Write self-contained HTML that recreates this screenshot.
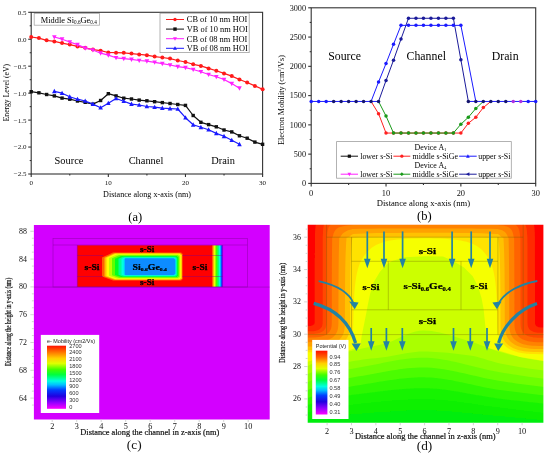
<!DOCTYPE html>
<html><head><meta charset="utf-8"><title>Figure</title>
<style>
html,body{margin:0;padding:0;background:#fff;width:550px;height:459px;overflow:hidden}
svg{display:block}
text{font-family:'Liberation Serif','Times New Roman',serif}
.s{font-family:'Liberation Sans','DejaVu Sans',sans-serif}
</style></head><body>
<svg width="550" height="459" viewBox="0 0 550 459">
<rect width="550" height="459" fill="#fff"/>
<g id="pa">
<rect x="31.2" y="12.3" width="231.4" height="161.7" fill="none" stroke="#333" stroke-width="1.1"/>
<line x1="28.2" y1="12.3" x2="31.2" y2="12.3" stroke="#333" stroke-width="1.1"/>
<text x="26.4" y="14.7" font-size="7" text-anchor="end" fill="#111">0.5</text>
<line x1="28.2" y1="39.25" x2="31.2" y2="39.25" stroke="#333" stroke-width="1.1"/>
<text x="26.4" y="41.65" font-size="7" text-anchor="end" fill="#111">0.0</text>
<line x1="28.2" y1="66.2" x2="31.2" y2="66.2" stroke="#333" stroke-width="1.1"/>
<text x="26.4" y="68.6" font-size="7" text-anchor="end" fill="#111">−0.5</text>
<line x1="28.2" y1="93.15" x2="31.2" y2="93.15" stroke="#333" stroke-width="1.1"/>
<text x="26.4" y="95.55" font-size="7" text-anchor="end" fill="#111">−1.0</text>
<line x1="28.2" y1="120.1" x2="31.2" y2="120.1" stroke="#333" stroke-width="1.1"/>
<text x="26.4" y="122.5" font-size="7" text-anchor="end" fill="#111">−1.5</text>
<line x1="28.2" y1="147.05" x2="31.2" y2="147.05" stroke="#333" stroke-width="1.1"/>
<text x="26.4" y="149.45" font-size="7" text-anchor="end" fill="#111">−2.0</text>
<line x1="28.2" y1="174" x2="31.2" y2="174" stroke="#333" stroke-width="1.1"/>
<text x="26.4" y="176.4" font-size="7" text-anchor="end" fill="#111">−2.5</text>
<line x1="29.7" y1="25.77" x2="31.2" y2="25.77" stroke="#333" stroke-width="1.1"/>
<line x1="29.7" y1="52.72" x2="31.2" y2="52.72" stroke="#333" stroke-width="1.1"/>
<line x1="29.7" y1="79.67" x2="31.2" y2="79.67" stroke="#333" stroke-width="1.1"/>
<line x1="29.7" y1="106.62" x2="31.2" y2="106.62" stroke="#333" stroke-width="1.1"/>
<line x1="29.7" y1="133.57" x2="31.2" y2="133.57" stroke="#333" stroke-width="1.1"/>
<line x1="29.7" y1="160.53" x2="31.2" y2="160.53" stroke="#333" stroke-width="1.1"/>
<line x1="31.2" y1="174.0" x2="31.2" y2="177" stroke="#333" stroke-width="1.1"/>
<text x="31.2" y="184.6" font-size="7" text-anchor="middle" fill="#111">0</text>
<line x1="108.33" y1="174.0" x2="108.33" y2="177" stroke="#333" stroke-width="1.1"/>
<text x="108.33" y="184.6" font-size="7" text-anchor="middle" fill="#111">10</text>
<line x1="185.47" y1="174.0" x2="185.47" y2="177" stroke="#333" stroke-width="1.1"/>
<text x="185.47" y="184.6" font-size="7" text-anchor="middle" fill="#111">20</text>
<line x1="262.6" y1="174.0" x2="262.6" y2="177" stroke="#333" stroke-width="1.1"/>
<text x="262.6" y="184.6" font-size="7" text-anchor="middle" fill="#111">30</text>
<line x1="69.77" y1="174.0" x2="69.77" y2="175.5" stroke="#333" stroke-width="1.1"/>
<line x1="146.9" y1="174.0" x2="146.9" y2="175.5" stroke="#333" stroke-width="1.1"/>
<line x1="224.03" y1="174.0" x2="224.03" y2="175.5" stroke="#333" stroke-width="1.1"/>
<path d="M31.2 37 L38.91 38.1 L46.63 40.3 L54.34 41.4 L62.05 43.1 L69.77 44.6 L77.48 46.4 L85.19 47.8 L92.91 49.6 L100.62 50.7 L108.33 52.5 L116.05 52.7 L123.76 52.8 L131.47 53.6 L139.19 54.4 L146.9 55.2 L154.61 56.6 L162.33 57.5 L170.04 58.6 L177.75 60.5 L185.47 62 L193.18 64.3 L200.89 65.9 L208.61 68.4 L216.32 70.7 L224.03 73.4 L231.75 76.1 L239.46 79.5 L247.17 82.5 L254.89 85.9 L262.6 89.3" fill="none" stroke="#ff1a1a" stroke-width="1.2" stroke-linejoin="round"/><circle cx="31.2" cy="37" r="2.0" fill="#ff1a1a"/><circle cx="38.91" cy="38.1" r="2.0" fill="#ff1a1a"/><circle cx="46.63" cy="40.3" r="2.0" fill="#ff1a1a"/><circle cx="54.34" cy="41.4" r="2.0" fill="#ff1a1a"/><circle cx="62.05" cy="43.1" r="2.0" fill="#ff1a1a"/><circle cx="69.77" cy="44.6" r="2.0" fill="#ff1a1a"/><circle cx="77.48" cy="46.4" r="2.0" fill="#ff1a1a"/><circle cx="85.19" cy="47.8" r="2.0" fill="#ff1a1a"/><circle cx="92.91" cy="49.6" r="2.0" fill="#ff1a1a"/><circle cx="100.62" cy="50.7" r="2.0" fill="#ff1a1a"/><circle cx="108.33" cy="52.5" r="2.0" fill="#ff1a1a"/><circle cx="116.05" cy="52.7" r="2.0" fill="#ff1a1a"/><circle cx="123.76" cy="52.8" r="2.0" fill="#ff1a1a"/><circle cx="131.47" cy="53.6" r="2.0" fill="#ff1a1a"/><circle cx="139.19" cy="54.4" r="2.0" fill="#ff1a1a"/><circle cx="146.9" cy="55.2" r="2.0" fill="#ff1a1a"/><circle cx="154.61" cy="56.6" r="2.0" fill="#ff1a1a"/><circle cx="162.33" cy="57.5" r="2.0" fill="#ff1a1a"/><circle cx="170.04" cy="58.6" r="2.0" fill="#ff1a1a"/><circle cx="177.75" cy="60.5" r="2.0" fill="#ff1a1a"/><circle cx="185.47" cy="62" r="2.0" fill="#ff1a1a"/><circle cx="193.18" cy="64.3" r="2.0" fill="#ff1a1a"/><circle cx="200.89" cy="65.9" r="2.0" fill="#ff1a1a"/><circle cx="208.61" cy="68.4" r="2.0" fill="#ff1a1a"/><circle cx="216.32" cy="70.7" r="2.0" fill="#ff1a1a"/><circle cx="224.03" cy="73.4" r="2.0" fill="#ff1a1a"/><circle cx="231.75" cy="76.1" r="2.0" fill="#ff1a1a"/><circle cx="239.46" cy="79.5" r="2.0" fill="#ff1a1a"/><circle cx="247.17" cy="82.5" r="2.0" fill="#ff1a1a"/><circle cx="254.89" cy="85.9" r="2.0" fill="#ff1a1a"/><circle cx="262.6" cy="89.3" r="2.0" fill="#ff1a1a"/>
<path d="M31.2 91.7 L38.91 92.8 L46.63 94.5 L54.34 95.9 L62.05 98.1 L69.77 99.2 L77.48 101 L85.19 102.3 L92.91 104.1 L100.62 100.5 L108.33 93.7 L116.05 95.9 L123.76 98.2 L131.47 99 L139.19 100.1 L146.9 100.8 L154.61 101.7 L162.33 102.6 L170.04 103.5 L177.75 104.5 L185.47 105.4 L193.18 115.5 L200.89 122.3 L208.61 124.6 L216.32 126.8 L224.03 130 L231.75 131.9 L239.46 135.8 L247.17 138.2 L254.89 142.1 L262.6 144.3" fill="none" stroke="#111" stroke-width="1.2" stroke-linejoin="round"/><rect x="29.5" y="90" width="3.4" height="3.4" fill="#111"/><rect x="37.21" y="91.1" width="3.4" height="3.4" fill="#111"/><rect x="44.93" y="92.8" width="3.4" height="3.4" fill="#111"/><rect x="52.64" y="94.2" width="3.4" height="3.4" fill="#111"/><rect x="60.35" y="96.4" width="3.4" height="3.4" fill="#111"/><rect x="68.07" y="97.5" width="3.4" height="3.4" fill="#111"/><rect x="75.78" y="99.3" width="3.4" height="3.4" fill="#111"/><rect x="83.49" y="100.6" width="3.4" height="3.4" fill="#111"/><rect x="91.21" y="102.4" width="3.4" height="3.4" fill="#111"/><rect x="98.92" y="98.8" width="3.4" height="3.4" fill="#111"/><rect x="106.63" y="92" width="3.4" height="3.4" fill="#111"/><rect x="114.35" y="94.2" width="3.4" height="3.4" fill="#111"/><rect x="122.06" y="96.5" width="3.4" height="3.4" fill="#111"/><rect x="129.77" y="97.3" width="3.4" height="3.4" fill="#111"/><rect x="137.49" y="98.4" width="3.4" height="3.4" fill="#111"/><rect x="145.2" y="99.1" width="3.4" height="3.4" fill="#111"/><rect x="152.91" y="100" width="3.4" height="3.4" fill="#111"/><rect x="160.63" y="100.9" width="3.4" height="3.4" fill="#111"/><rect x="168.34" y="101.8" width="3.4" height="3.4" fill="#111"/><rect x="176.05" y="102.8" width="3.4" height="3.4" fill="#111"/><rect x="183.77" y="103.7" width="3.4" height="3.4" fill="#111"/><rect x="191.48" y="113.8" width="3.4" height="3.4" fill="#111"/><rect x="199.19" y="120.6" width="3.4" height="3.4" fill="#111"/><rect x="206.91" y="122.9" width="3.4" height="3.4" fill="#111"/><rect x="214.62" y="125.1" width="3.4" height="3.4" fill="#111"/><rect x="222.33" y="128.3" width="3.4" height="3.4" fill="#111"/><rect x="230.05" y="130.2" width="3.4" height="3.4" fill="#111"/><rect x="237.76" y="134.1" width="3.4" height="3.4" fill="#111"/><rect x="245.47" y="136.5" width="3.4" height="3.4" fill="#111"/><rect x="253.19" y="140.4" width="3.4" height="3.4" fill="#111"/><rect x="260.9" y="142.6" width="3.4" height="3.4" fill="#111"/>
<path d="M54.34 37 L62.05 39.2 L69.77 42 L77.48 44.6 L85.19 48.1 L92.91 50 L100.62 53.2 L108.33 55.1 L116.05 57.8 L123.76 58.6 L131.47 59.4 L139.19 60.5 L146.9 61.2 L154.61 62.3 L162.33 63.6 L170.04 65 L177.75 66.6 L185.47 67.7 L193.18 69.5 L200.89 71.8 L208.61 74.5 L216.32 76.8 L224.03 79.5 L231.75 83.6 L239.46 88.2" fill="none" stroke="#ff22ff" stroke-width="1.2" stroke-linejoin="round"/><path d="M54.34 39.53L56.64 35.16L52.04 35.16Z" fill="#ff22ff"/><path d="M62.05 41.73L64.35 37.36L59.75 37.36Z" fill="#ff22ff"/><path d="M69.77 44.53L72.07 40.16L67.47 40.16Z" fill="#ff22ff"/><path d="M77.48 47.13L79.78 42.76L75.18 42.76Z" fill="#ff22ff"/><path d="M85.19 50.63L87.49 46.26L82.89 46.26Z" fill="#ff22ff"/><path d="M92.91 52.53L95.21 48.16L90.61 48.16Z" fill="#ff22ff"/><path d="M100.62 55.73L102.92 51.36L98.32 51.36Z" fill="#ff22ff"/><path d="M108.33 57.63L110.63 53.26L106.03 53.26Z" fill="#ff22ff"/><path d="M116.05 60.33L118.35 55.96L113.75 55.96Z" fill="#ff22ff"/><path d="M123.76 61.13L126.06 56.76L121.46 56.76Z" fill="#ff22ff"/><path d="M131.47 61.93L133.77 57.56L129.17 57.56Z" fill="#ff22ff"/><path d="M139.19 63.03L141.49 58.66L136.89 58.66Z" fill="#ff22ff"/><path d="M146.9 63.73L149.2 59.36L144.6 59.36Z" fill="#ff22ff"/><path d="M154.61 64.83L156.91 60.46L152.31 60.46Z" fill="#ff22ff"/><path d="M162.33 66.13L164.63 61.76L160.03 61.76Z" fill="#ff22ff"/><path d="M170.04 67.53L172.34 63.16L167.74 63.16Z" fill="#ff22ff"/><path d="M177.75 69.13L180.05 64.76L175.45 64.76Z" fill="#ff22ff"/><path d="M185.47 70.23L187.77 65.86L183.17 65.86Z" fill="#ff22ff"/><path d="M193.18 72.03L195.48 67.66L190.88 67.66Z" fill="#ff22ff"/><path d="M200.89 74.33L203.19 69.96L198.59 69.96Z" fill="#ff22ff"/><path d="M208.61 77.03L210.91 72.66L206.31 72.66Z" fill="#ff22ff"/><path d="M216.32 79.33L218.62 74.96L214.02 74.96Z" fill="#ff22ff"/><path d="M224.03 82.03L226.33 77.66L221.73 77.66Z" fill="#ff22ff"/><path d="M231.75 86.13L234.05 81.76L229.45 81.76Z" fill="#ff22ff"/><path d="M239.46 90.73L241.76 86.36L237.16 86.36Z" fill="#ff22ff"/>
<path d="M54.34 91.4 L62.05 93.2 L69.77 96.8 L77.48 99.2 L85.19 101 L92.91 104.1 L100.62 107.7 L108.33 103.2 L116.05 98.5 L123.76 101.2 L131.47 104.1 L139.19 105 L146.9 106.5 L154.61 107.2 L162.33 108.1 L170.04 108.6 L177.75 109 L185.47 117.7 L193.18 124.8 L200.89 127.3 L208.61 129.7 L216.32 133.4 L224.03 136.3 L231.75 140.2 L239.46 144.3" fill="none" stroke="#1a1aff" stroke-width="1.2" stroke-linejoin="round"/><path d="M54.34 88.87L56.64 93.24L52.04 93.24Z" fill="#1a1aff"/><path d="M62.05 90.67L64.35 95.04L59.75 95.04Z" fill="#1a1aff"/><path d="M69.77 94.27L72.07 98.64L67.47 98.64Z" fill="#1a1aff"/><path d="M77.48 96.67L79.78 101.04L75.18 101.04Z" fill="#1a1aff"/><path d="M85.19 98.47L87.49 102.84L82.89 102.84Z" fill="#1a1aff"/><path d="M92.91 101.57L95.21 105.94L90.61 105.94Z" fill="#1a1aff"/><path d="M100.62 105.17L102.92 109.54L98.32 109.54Z" fill="#1a1aff"/><path d="M108.33 100.67L110.63 105.04L106.03 105.04Z" fill="#1a1aff"/><path d="M116.05 95.97L118.35 100.34L113.75 100.34Z" fill="#1a1aff"/><path d="M123.76 98.67L126.06 103.04L121.46 103.04Z" fill="#1a1aff"/><path d="M131.47 101.57L133.77 105.94L129.17 105.94Z" fill="#1a1aff"/><path d="M139.19 102.47L141.49 106.84L136.89 106.84Z" fill="#1a1aff"/><path d="M146.9 103.97L149.2 108.34L144.6 108.34Z" fill="#1a1aff"/><path d="M154.61 104.67L156.91 109.04L152.31 109.04Z" fill="#1a1aff"/><path d="M162.33 105.57L164.63 109.94L160.03 109.94Z" fill="#1a1aff"/><path d="M170.04 106.07L172.34 110.44L167.74 110.44Z" fill="#1a1aff"/><path d="M177.75 106.47L180.05 110.84L175.45 110.84Z" fill="#1a1aff"/><path d="M185.47 115.17L187.77 119.54L183.17 119.54Z" fill="#1a1aff"/><path d="M193.18 122.27L195.48 126.64L190.88 126.64Z" fill="#1a1aff"/><path d="M200.89 124.77L203.19 129.14L198.59 129.14Z" fill="#1a1aff"/><path d="M208.61 127.17L210.91 131.54L206.31 131.54Z" fill="#1a1aff"/><path d="M216.32 130.87L218.62 135.24L214.02 135.24Z" fill="#1a1aff"/><path d="M224.03 133.77L226.33 138.14L221.73 138.14Z" fill="#1a1aff"/><path d="M231.75 137.67L234.05 142.04L229.45 142.04Z" fill="#1a1aff"/><path d="M239.46 141.77L241.76 146.14L237.16 146.14Z" fill="#1a1aff"/>
<rect x="160" y="13.2" width="89.2" height="39.4" fill="#fff" stroke="#a0a0a0" stroke-width="0.8"/>
<line x1="166" y1="19.5" x2="184" y2="19.5" stroke="#ff1a1a" stroke-width="1"/>
<circle cx="175" cy="19.5" r="1.7" fill="#ff1a1a"/>
<text x="186.8" y="22.4" font-size="8.4" fill="#000">CB of 10 nm HOI</text>
<line x1="166" y1="29.1" x2="184" y2="29.1" stroke="#111" stroke-width="1"/>
<rect x="173.3" y="27.4" width="3.4" height="3.4" fill="#111"/>
<text x="186.8" y="32" font-size="8.4" fill="#000">VB of 10 nm HOI</text>
<line x1="166" y1="38.7" x2="184" y2="38.7" stroke="#ff22ff" stroke-width="1"/>
<path d="M175 40.85L176.96 37.14L173.04 37.14Z" fill="#ff22ff"/>
<text x="186.8" y="41.6" font-size="8.4" fill="#000">CB of 08 nm HOI</text>
<line x1="166" y1="48.3" x2="184" y2="48.3" stroke="#1a1aff" stroke-width="1"/>
<path d="M175 46.15L176.96 49.86L173.04 49.86Z" fill="#1a1aff"/>
<text x="186.8" y="51.2" font-size="8.4" fill="#000">VB of 08 nm HOI</text>
<rect x="34.2" y="13.5" width="65.3" height="11.7" fill="#fff" stroke="#a8a8a8" stroke-width="0.8"/>
<text x="40.8" y="22.5" font-size="8.4" fill="#000">Middle Si<tspan font-size="5.2" dy="1.6">0.6</tspan><tspan dy="-1.6">Ge</tspan><tspan font-size="5.2" dy="1.6">0.4</tspan></text>
<text x="54.5" y="164" font-size="10.4" fill="#000">Source</text>
<text x="128.7" y="164" font-size="10.4" fill="#000">Channel</text>
<text x="211.2" y="164" font-size="10.4" fill="#000">Drain</text>
<text x="147" y="196.8" font-size="8.1" text-anchor="middle" fill="#000">Distance along x-axis (nm)</text>
<text transform="translate(9.3 92.6) rotate(-90)" font-size="7.7" text-anchor="middle" fill="#000">Energy Level (eV)</text>
<text x="135.3" y="220.5" font-size="12.5" text-anchor="middle" fill="#000">(a)</text>
</g>
<g id="pb">
<rect x="311.2" y="7.8" width="224.5" height="175.6" fill="none" stroke="#333" stroke-width="1.1"/>
<line x1="308.2" y1="183.4" x2="311.2" y2="183.4" stroke="#333" stroke-width="1.1"/>
<text x="306" y="186.2" font-size="8.2" text-anchor="end" fill="#111">0</text>
<line x1="308.2" y1="154.13" x2="311.2" y2="154.13" stroke="#333" stroke-width="1.1"/>
<text x="306" y="156.93" font-size="8.2" text-anchor="end" fill="#111">500</text>
<line x1="308.2" y1="124.87" x2="311.2" y2="124.87" stroke="#333" stroke-width="1.1"/>
<text x="306" y="127.67" font-size="8.2" text-anchor="end" fill="#111">1000</text>
<line x1="308.2" y1="95.6" x2="311.2" y2="95.6" stroke="#333" stroke-width="1.1"/>
<text x="306" y="98.4" font-size="8.2" text-anchor="end" fill="#111">1500</text>
<line x1="308.2" y1="66.33" x2="311.2" y2="66.33" stroke="#333" stroke-width="1.1"/>
<text x="306" y="69.13" font-size="8.2" text-anchor="end" fill="#111">2000</text>
<line x1="308.2" y1="37.07" x2="311.2" y2="37.07" stroke="#333" stroke-width="1.1"/>
<text x="306" y="39.87" font-size="8.2" text-anchor="end" fill="#111">2500</text>
<line x1="308.2" y1="7.8" x2="311.2" y2="7.8" stroke="#333" stroke-width="1.1"/>
<text x="306" y="10.6" font-size="8.2" text-anchor="end" fill="#111">3000</text>
<line x1="309.7" y1="168.77" x2="311.2" y2="168.77" stroke="#333" stroke-width="1.1"/>
<line x1="309.7" y1="139.5" x2="311.2" y2="139.5" stroke="#333" stroke-width="1.1"/>
<line x1="309.7" y1="110.23" x2="311.2" y2="110.23" stroke="#333" stroke-width="1.1"/>
<line x1="309.7" y1="80.97" x2="311.2" y2="80.97" stroke="#333" stroke-width="1.1"/>
<line x1="309.7" y1="51.7" x2="311.2" y2="51.7" stroke="#333" stroke-width="1.1"/>
<line x1="309.7" y1="22.43" x2="311.2" y2="22.43" stroke="#333" stroke-width="1.1"/>
<line x1="311.2" y1="183.4" x2="311.2" y2="186.4" stroke="#333" stroke-width="1.1"/>
<text x="311.2" y="195.6" font-size="8.4" text-anchor="middle" fill="#111">0</text>
<line x1="386.03" y1="183.4" x2="386.03" y2="186.4" stroke="#333" stroke-width="1.1"/>
<text x="386.03" y="195.6" font-size="8.4" text-anchor="middle" fill="#111">10</text>
<line x1="460.87" y1="183.4" x2="460.87" y2="186.4" stroke="#333" stroke-width="1.1"/>
<text x="460.87" y="195.6" font-size="8.4" text-anchor="middle" fill="#111">20</text>
<line x1="535.7" y1="183.4" x2="535.7" y2="186.4" stroke="#333" stroke-width="1.1"/>
<text x="535.7" y="195.6" font-size="8.4" text-anchor="middle" fill="#111">30</text>
<line x1="348.62" y1="183.4" x2="348.62" y2="184.9" stroke="#333" stroke-width="1.1"/>
<line x1="423.45" y1="183.4" x2="423.45" y2="184.9" stroke="#333" stroke-width="1.1"/>
<line x1="498.28" y1="183.4" x2="498.28" y2="184.9" stroke="#333" stroke-width="1.1"/>
<path d="M371.07 101.45 L378.55 113.63 L386.03 133.06 L393.52 133.06 L401 133.06 L408.48 133.06 L415.97 133.06 L423.45 133.06 L430.93 133.06 L438.42 133.06 L445.9 133.06 L453.38 133.06 L460.87 133.06 L468.35 123.29 L475.83 117.26 L483.32 107.6 L490.8 101.45" fill="none" stroke="#ff2020" stroke-width="1"/>
<circle cx="378.55" cy="113.63" r="1.75" fill="#ff2020"/><circle cx="386.03" cy="133.06" r="1.75" fill="#ff2020"/><circle cx="393.52" cy="133.06" r="1.75" fill="#ff2020"/><circle cx="401" cy="133.06" r="1.75" fill="#ff2020"/><circle cx="408.48" cy="133.06" r="1.75" fill="#ff2020"/><circle cx="415.97" cy="133.06" r="1.75" fill="#ff2020"/><circle cx="423.45" cy="133.06" r="1.75" fill="#ff2020"/><circle cx="430.93" cy="133.06" r="1.75" fill="#ff2020"/><circle cx="438.42" cy="133.06" r="1.75" fill="#ff2020"/><circle cx="445.9" cy="133.06" r="1.75" fill="#ff2020"/><circle cx="453.38" cy="133.06" r="1.75" fill="#ff2020"/><circle cx="460.87" cy="133.06" r="1.75" fill="#ff2020"/><circle cx="468.35" cy="123.29" r="1.75" fill="#ff2020"/><circle cx="475.83" cy="117.26" r="1.75" fill="#ff2020"/><circle cx="483.32" cy="107.6" r="1.75" fill="#ff2020"/>
<path d="M378.55 101.45 L386.03 116.03 L393.52 133.06 L401 133.06 L408.48 133.06 L415.97 133.06 L423.45 133.06 L430.93 133.06 L438.42 133.06 L445.9 133.06 L453.38 133.06 L460.87 124.22 L468.35 117.26 L475.83 108.48 L483.32 101.45" fill="none" stroke="#1a9a1a" stroke-width="1"/>
<circle cx="386.03" cy="116.03" r="1.75" fill="#1a9a1a"/><circle cx="393.52" cy="133.06" r="1.75" fill="#1a9a1a"/><circle cx="401" cy="133.06" r="1.75" fill="#1a9a1a"/><circle cx="408.48" cy="133.06" r="1.75" fill="#1a9a1a"/><circle cx="415.97" cy="133.06" r="1.75" fill="#1a9a1a"/><circle cx="423.45" cy="133.06" r="1.75" fill="#1a9a1a"/><circle cx="430.93" cy="133.06" r="1.75" fill="#1a9a1a"/><circle cx="438.42" cy="133.06" r="1.75" fill="#1a9a1a"/><circle cx="445.9" cy="133.06" r="1.75" fill="#1a9a1a"/><circle cx="453.38" cy="133.06" r="1.75" fill="#1a9a1a"/><circle cx="460.87" cy="124.22" r="1.75" fill="#1a9a1a"/><circle cx="468.35" cy="117.26" r="1.75" fill="#1a9a1a"/><circle cx="475.83" cy="108.48" r="1.75" fill="#1a9a1a"/>
<path d="M378.55 101.45 L386.03 80.5 L393.52 60.19 L401 39 L408.48 18.28 L415.97 18.28 L423.45 18.28 L430.93 18.28 L438.42 18.28 L445.9 18.28 L453.38 18.28 L460.87 59.72 L468.35 101.45" fill="none" stroke="#1a1a9a" stroke-width="1"/>
<path d="M371.07 101.45 L378.55 82.02 L386.03 63.52 L393.52 44.27 L401 25.36 L408.48 25.36 L415.97 25.36 L423.45 25.36 L430.93 25.36 L438.42 25.36 L445.9 25.36 L453.38 25.36 L460.87 25.36 L468.35 63 L475.83 101.45" fill="none" stroke="#1a1aff" stroke-width="1"/>
<circle cx="378.55" cy="82.02" r="1.75" fill="#1a1aff"/><circle cx="386.03" cy="63.52" r="1.75" fill="#1a1aff"/><circle cx="393.52" cy="44.27" r="1.75" fill="#1a1aff"/><circle cx="401" cy="25.36" r="1.75" fill="#1a1aff"/><circle cx="408.48" cy="25.36" r="1.75" fill="#1a1aff"/><circle cx="415.97" cy="25.36" r="1.75" fill="#1a1aff"/><circle cx="423.45" cy="25.36" r="1.75" fill="#1a1aff"/><circle cx="430.93" cy="25.36" r="1.75" fill="#1a1aff"/><circle cx="438.42" cy="25.36" r="1.75" fill="#1a1aff"/><circle cx="445.9" cy="25.36" r="1.75" fill="#1a1aff"/><circle cx="453.38" cy="25.36" r="1.75" fill="#1a1aff"/><circle cx="460.87" cy="25.36" r="1.75" fill="#1a1aff"/>
<circle cx="386.03" cy="80.5" r="1.75" fill="#1a1a9a"/><circle cx="393.52" cy="60.19" r="1.75" fill="#1a1a9a"/><circle cx="401" cy="39" r="1.75" fill="#1a1a9a"/><circle cx="408.48" cy="18.28" r="1.75" fill="#1a1a9a"/><circle cx="415.97" cy="18.28" r="1.75" fill="#1a1a9a"/><circle cx="423.45" cy="18.28" r="1.75" fill="#1a1a9a"/><circle cx="430.93" cy="18.28" r="1.75" fill="#1a1a9a"/><circle cx="438.42" cy="18.28" r="1.75" fill="#1a1a9a"/><circle cx="445.9" cy="18.28" r="1.75" fill="#1a1a9a"/><circle cx="453.38" cy="18.28" r="1.75" fill="#1a1a9a"/><circle cx="460.87" cy="59.72" r="1.75" fill="#1a1a9a"/>
<line x1="311.2" y1="101.45" x2="378.55" y2="101.45" stroke="#1a1aff" stroke-width="1"/>
<line x1="468.35" y1="101.45" x2="535.7" y2="101.45" stroke="#1a1aff" stroke-width="1"/>
<circle cx="311.2" cy="101.45" r="1.75" fill="#1a1aff"/>
<circle cx="318.68" cy="101.45" r="1.75" fill="#1a1aff"/>
<circle cx="326.17" cy="101.45" r="1.75" fill="#1a1aff"/>
<circle cx="333.65" cy="101.45" r="1.75" fill="#14146e"/>
<circle cx="341.13" cy="101.45" r="1.75" fill="#14146e"/>
<circle cx="348.62" cy="101.45" r="1.75" fill="#14146e"/>
<circle cx="356.1" cy="101.45" r="1.75" fill="#14146e"/>
<circle cx="363.58" cy="101.45" r="1.75" fill="#14146e"/>
<circle cx="371.07" cy="101.45" r="1.75" fill="#14146e"/>
<circle cx="378.55" cy="101.45" r="1.75" fill="#14146e"/>
<circle cx="468.35" cy="101.45" r="1.75" fill="#14146e"/>
<circle cx="475.83" cy="101.45" r="1.75" fill="#14146e"/>
<circle cx="483.32" cy="101.45" r="1.75" fill="#14146e"/>
<circle cx="490.8" cy="101.45" r="1.75" fill="#14146e"/>
<circle cx="498.28" cy="101.45" r="1.75" fill="#14146e"/>
<circle cx="505.77" cy="101.45" r="1.75" fill="#14146e"/>
<circle cx="513.25" cy="101.45" r="1.75" fill="#b030e0"/>
<circle cx="520.73" cy="101.45" r="1.75" fill="#b030e0"/>
<circle cx="528.22" cy="101.45" r="1.75" fill="#1a1aff"/>
<circle cx="535.7" cy="101.45" r="1.75" fill="#1a1aff"/>
<rect x="336.6" y="141.6" width="174.7" height="36.6" fill="#fff" stroke="#a0a0a0" stroke-width="0.8"/>
<text x="430.5" y="149.6" font-size="7.9" text-anchor="middle" fill="#000">Device A<tspan font-size="4.8" dy="1.5">1</tspan></text>
<text x="430.5" y="167.7" font-size="7.9" text-anchor="middle" fill="#000">Device A<tspan font-size="4.8" dy="1.5">4</tspan></text>
<line x1="340.7" y1="156.2" x2="358" y2="156.2" stroke="#111" stroke-width="1"/>
<rect x="347.75" y="154.6" width="3.2" height="3.2" fill="#111"/>
<text x="360.2" y="158.9" font-size="7.9" fill="#000">lower s-Si</text>
<line x1="393.4" y1="156.2" x2="410.3" y2="156.2" stroke="#ff2020" stroke-width="1"/>
<circle cx="401.85" cy="156.2" r="1.6" fill="#ff2020"/>
<text x="412.6" y="158.9" font-size="7.9" fill="#000">middle s-SiGe</text>
<line x1="459.1" y1="156.2" x2="476.7" y2="156.2" stroke="#1a1aff" stroke-width="1"/>
<path d="M467.9 154.18L469.74 157.67L466.06 157.67Z" fill="#1a1aff"/>
<text x="478.2" y="158.9" font-size="7.9" fill="#000">upper s-Si</text>
<line x1="340.7" y1="174.2" x2="358" y2="174.2" stroke="#ff22ff" stroke-width="1"/>
<path d="M349.35 176.22L351.19 172.73L347.51 172.73Z" fill="#ff22ff"/>
<text x="360.2" y="176.9" font-size="7.9" fill="#000">lower s-Si</text>
<line x1="393.4" y1="174.2" x2="410.3" y2="174.2" stroke="#1a9a1a" stroke-width="1"/>
<path d="M401.85 172.28L403.77 174.2L401.85 176.12L399.93 174.2Z" fill="#1a9a1a"/>
<text x="412.6" y="176.9" font-size="7.9" fill="#000">middle s-SiGe</text>
<line x1="459.1" y1="174.2" x2="476.7" y2="174.2" stroke="#1a1a9a" stroke-width="1"/>
<path d="M465.88 174.2L469.37 172.36L469.37 176.04Z" fill="#1a1a9a"/>
<text x="478.2" y="176.9" font-size="7.9" fill="#000">upper s-Si</text>
<text x="328.2" y="60" font-size="11.8" fill="#000">Source</text>
<text x="406.6" y="59.8" font-size="11.8" fill="#000">Channel</text>
<text x="491.7" y="59.8" font-size="11.8" fill="#000">Drain</text>
<text x="423.4" y="205.5" font-size="8.6" text-anchor="middle" fill="#000">Distance along x-axis (nm)</text>
<text transform="translate(284.3 100) rotate(-90)" font-size="8.2" text-anchor="middle" fill="#000">Electron Mobility (cm<tspan font-size="5" dy="-3">2</tspan><tspan dy="3">/Vs)</tspan></text>
<text x="424.4" y="219.8" font-size="12.5" text-anchor="middle" fill="#000">(b)</text>
</g>
<g id="pc">
<rect x="33.9" y="225.0" width="235.8" height="194.5" fill="#d300ff"/>
<defs><linearGradient id="cg1" x1="0" x2="1" y1="0" y2="0"><stop offset="0" stop-color="#ff0000"/><stop offset="0.14" stop-color="#ff9000"/><stop offset="0.25" stop-color="#ffff00"/><stop offset="0.45" stop-color="#40ff00"/><stop offset="0.62" stop-color="#00ff80"/><stop offset="0.75" stop-color="#00ffff"/><stop offset="0.87" stop-color="#0060ff"/><stop offset="0.95" stop-color="#3000ff"/><stop offset="1" stop-color="#8000ff"/></linearGradient><filter id="cblur" x="-5%" y="-5%" width="110%" height="110%"><feGaussianBlur stdDeviation="0.6"/></filter></defs>
<g filter="url(#cblur)"><rect x="77.3" y="245.3" width="135" height="41.6" fill="#ff0000"/><rect x="211.5" y="245.3" width="11.2" height="41.6" fill="url(#cg1)"/><path d="M102 257.55L113 252.6L181.1 252.6L182.6 254.1L182.6 278.9L181.1 280.4L113 280.4L102 276.55Z" fill="#ff6000"/><path d="M104.5 257.7L114.5 253.2L180.5 253.2L182 254.7L182 278.3L180.5 279.8L114.5 279.8L104.5 276.3Z" fill="#ffc000"/><path d="M106.5 257.85L115.5 253.8L179.7 253.8L181.2 255.3L181.2 277.7L179.7 279.2L115.5 279.2L106.5 276.05Z" fill="#ffff00"/><path d="M109 258.1L117 254.5L178.7 254.5L180.2 256L180.2 277L178.7 278.5L117 278.5L109 275.7Z" fill="#c0ff00"/><path d="M112 258.35L119 255.2L177.7 255.2L179.2 256.7L179.2 276.3L177.7 277.8L119 277.8L112 275.35Z" fill="#60ff00"/><path d="M115 258.7L121 256L176.7 256L178.2 257.5L178.2 275.5L176.7 277L121 277L115 274.9Z" fill="#00ff20"/><path d="M118.5 258.82L123 256.8L175.7 256.8L177.2 258.3L177.2 274.9L175.7 276.4L123 276.4L118.5 274.82Z" fill="#00ff90"/><path d="M121.5 258.85L124.5 257.5L174.7 257.5L176.2 259L176.2 274.3L174.7 275.8L124.5 275.8L121.5 274.75Z" fill="#00ffe0"/><path d="M123.8 258.9L125.8 258L174.1 258L175.6 259.5L175.6 273.7L174.1 275.2L125.8 275.2L123.8 274.5Z" fill="#00c8ff"/><path d="M125 258.62L125.5 258.4L173.7 258.4L175.2 259.9L175.2 273.4L173.7 274.9L125.5 274.9L125 274.72Z" fill="#0a8cff"/></g>
<rect x="53" y="238.5" width="194.4" height="48.5" stroke="#7a0090" stroke-opacity="0.55" stroke-width="0.7" fill="none"/>
<line x1="53" y1="245" x2="247.4" y2="245" stroke="#7a0090" stroke-opacity="0.55" stroke-width="0.7" fill="none"/>
<line x1="33.9" y1="287.1" x2="269.7" y2="287.1" stroke="#7a0090" stroke-opacity="0.55" stroke-width="0.7" fill="none"/>
<path d="M77.3 255.5H103M182.4 255.5H222.6M77.3 276.5H103M182.4 276.5H222.6" stroke="#7a0090" stroke-opacity="0.55" stroke-width="0.7" fill="none"/>
<line x1="77.3" y1="245" x2="77.3" y2="287" stroke="#7a0090" stroke-opacity="0.55" stroke-width="0.7" fill="none"/>
<line x1="222.6" y1="245" x2="222.6" y2="287" stroke="#7a0090" stroke-opacity="0.55" stroke-width="0.7" fill="none"/>
<text x="147.2" y="251.7" font-size="8.5" text-anchor="middle" font-weight="bold" textLength="14.3" lengthAdjust="spacingAndGlyphs" fill="#000" stroke="#000" stroke-width="0.25">s-Si</text>
<text x="147.2" y="285.3" font-size="8.5" text-anchor="middle" font-weight="bold" textLength="14.3" lengthAdjust="spacingAndGlyphs" fill="#000" stroke="#000" stroke-width="0.25">s-Si</text>
<text x="84.5" y="269.7" font-size="8.5" font-weight="bold" textLength="15" lengthAdjust="spacingAndGlyphs" fill="#000" stroke="#000" stroke-width="0.25">s-Si</text>
<text x="192.6" y="269.6" font-size="8.5" font-weight="bold" textLength="14.7" lengthAdjust="spacingAndGlyphs" fill="#000" stroke="#000" stroke-width="0.25">s-Si</text>
<text transform="translate(132.6 269.5) scale(1.12 1)" font-size="8.8" font-weight="bold" fill="#000" stroke="#000" stroke-width="0.22">Si<tspan font-size="5" dy="1.9">0.6</tspan><tspan dy="-1.9">Ge</tspan><tspan font-size="5" dy="1.9">0.4</tspan></text>
<line x1="31.9" y1="405.05" x2="33.9" y2="405.05" stroke="#c8c8c8" stroke-width="0.8"/>
<line x1="30.4" y1="398.1" x2="33.9" y2="398.1" stroke="#c8c8c8" stroke-width="0.8"/>
<line x1="31.9" y1="391.15" x2="33.9" y2="391.15" stroke="#c8c8c8" stroke-width="0.8"/>
<line x1="31.9" y1="384.2" x2="33.9" y2="384.2" stroke="#c8c8c8" stroke-width="0.8"/>
<line x1="31.9" y1="377.25" x2="33.9" y2="377.25" stroke="#c8c8c8" stroke-width="0.8"/>
<line x1="30.4" y1="370.3" x2="33.9" y2="370.3" stroke="#c8c8c8" stroke-width="0.8"/>
<line x1="31.9" y1="363.35" x2="33.9" y2="363.35" stroke="#c8c8c8" stroke-width="0.8"/>
<line x1="31.9" y1="356.4" x2="33.9" y2="356.4" stroke="#c8c8c8" stroke-width="0.8"/>
<line x1="31.9" y1="349.45" x2="33.9" y2="349.45" stroke="#c8c8c8" stroke-width="0.8"/>
<line x1="30.4" y1="342.5" x2="33.9" y2="342.5" stroke="#c8c8c8" stroke-width="0.8"/>
<line x1="31.9" y1="335.55" x2="33.9" y2="335.55" stroke="#c8c8c8" stroke-width="0.8"/>
<line x1="31.9" y1="328.6" x2="33.9" y2="328.6" stroke="#c8c8c8" stroke-width="0.8"/>
<line x1="31.9" y1="321.65" x2="33.9" y2="321.65" stroke="#c8c8c8" stroke-width="0.8"/>
<line x1="30.4" y1="314.7" x2="33.9" y2="314.7" stroke="#c8c8c8" stroke-width="0.8"/>
<line x1="31.9" y1="307.75" x2="33.9" y2="307.75" stroke="#c8c8c8" stroke-width="0.8"/>
<line x1="31.9" y1="300.8" x2="33.9" y2="300.8" stroke="#c8c8c8" stroke-width="0.8"/>
<line x1="31.9" y1="293.85" x2="33.9" y2="293.85" stroke="#c8c8c8" stroke-width="0.8"/>
<line x1="30.4" y1="286.9" x2="33.9" y2="286.9" stroke="#c8c8c8" stroke-width="0.8"/>
<line x1="31.9" y1="279.95" x2="33.9" y2="279.95" stroke="#c8c8c8" stroke-width="0.8"/>
<line x1="31.9" y1="273" x2="33.9" y2="273" stroke="#c8c8c8" stroke-width="0.8"/>
<line x1="31.9" y1="266.05" x2="33.9" y2="266.05" stroke="#c8c8c8" stroke-width="0.8"/>
<line x1="30.4" y1="259.1" x2="33.9" y2="259.1" stroke="#c8c8c8" stroke-width="0.8"/>
<line x1="31.9" y1="252.15" x2="33.9" y2="252.15" stroke="#c8c8c8" stroke-width="0.8"/>
<line x1="31.9" y1="245.2" x2="33.9" y2="245.2" stroke="#c8c8c8" stroke-width="0.8"/>
<line x1="31.9" y1="238.25" x2="33.9" y2="238.25" stroke="#c8c8c8" stroke-width="0.8"/>
<line x1="30.4" y1="231.3" x2="33.9" y2="231.3" stroke="#c8c8c8" stroke-width="0.8"/>
<text x="27" y="233.8" font-size="7.3" text-anchor="end" textLength="7.9" lengthAdjust="spacingAndGlyphs" fill="#111">88</text>
<text x="27" y="261.6" font-size="7.3" text-anchor="end" textLength="7.9" lengthAdjust="spacingAndGlyphs" fill="#111">84</text>
<text x="27" y="289.4" font-size="7.3" text-anchor="end" textLength="7.9" lengthAdjust="spacingAndGlyphs" fill="#111">80</text>
<text x="27" y="317.2" font-size="7.3" text-anchor="end" textLength="7.9" lengthAdjust="spacingAndGlyphs" fill="#111">76</text>
<text x="27" y="345" font-size="7.3" text-anchor="end" textLength="7.9" lengthAdjust="spacingAndGlyphs" fill="#111">72</text>
<text x="27" y="372.8" font-size="7.3" text-anchor="end" textLength="7.9" lengthAdjust="spacingAndGlyphs" fill="#111">68</text>
<text x="27" y="400.6" font-size="7.3" text-anchor="end" textLength="7.9" lengthAdjust="spacingAndGlyphs" fill="#111">64</text>
<line x1="52.2" y1="419.5" x2="52.2" y2="422" stroke="#c8c8c8" stroke-width="0.8"/>
<text x="52.2" y="429.4" font-size="7.4" text-anchor="middle" textLength="4.1" lengthAdjust="spacingAndGlyphs" fill="#111">2</text>
<line x1="76.7" y1="419.5" x2="76.7" y2="422" stroke="#c8c8c8" stroke-width="0.8"/>
<text x="76.7" y="429.4" font-size="7.4" text-anchor="middle" textLength="4.1" lengthAdjust="spacingAndGlyphs" fill="#111">3</text>
<line x1="101.2" y1="419.5" x2="101.2" y2="422" stroke="#c8c8c8" stroke-width="0.8"/>
<text x="101.2" y="429.4" font-size="7.4" text-anchor="middle" textLength="4.1" lengthAdjust="spacingAndGlyphs" fill="#111">4</text>
<line x1="125.7" y1="419.5" x2="125.7" y2="422" stroke="#c8c8c8" stroke-width="0.8"/>
<text x="125.7" y="429.4" font-size="7.4" text-anchor="middle" textLength="4.1" lengthAdjust="spacingAndGlyphs" fill="#111">5</text>
<line x1="150.2" y1="419.5" x2="150.2" y2="422" stroke="#c8c8c8" stroke-width="0.8"/>
<text x="150.2" y="429.4" font-size="7.4" text-anchor="middle" textLength="4.1" lengthAdjust="spacingAndGlyphs" fill="#111">6</text>
<line x1="174.7" y1="419.5" x2="174.7" y2="422" stroke="#c8c8c8" stroke-width="0.8"/>
<text x="174.7" y="429.4" font-size="7.4" text-anchor="middle" textLength="4.1" lengthAdjust="spacingAndGlyphs" fill="#111">7</text>
<line x1="199.2" y1="419.5" x2="199.2" y2="422" stroke="#c8c8c8" stroke-width="0.8"/>
<text x="199.2" y="429.4" font-size="7.4" text-anchor="middle" textLength="4.1" lengthAdjust="spacingAndGlyphs" fill="#111">8</text>
<line x1="223.7" y1="419.5" x2="223.7" y2="422" stroke="#c8c8c8" stroke-width="0.8"/>
<text x="223.7" y="429.4" font-size="7.4" text-anchor="middle" textLength="4.1" lengthAdjust="spacingAndGlyphs" fill="#111">9</text>
<line x1="248.2" y1="419.5" x2="248.2" y2="422" stroke="#c8c8c8" stroke-width="0.8"/>
<text x="248.2" y="429.4" font-size="7.4" text-anchor="middle" textLength="8.3" lengthAdjust="spacingAndGlyphs" fill="#111">10</text>
<text x="149.8" y="435.3" font-size="7.4" text-anchor="middle" textLength="139" lengthAdjust="spacingAndGlyphs" fill="#111" stroke="#111" stroke-width="0.18">Distance along the channel in z-axis (nm)</text>
<text transform="translate(10.6 321.9) scale(1.4 1) rotate(-90)" font-size="5.6" text-anchor="middle" textLength="88.2" lengthAdjust="spacingAndGlyphs" fill="#111" stroke="#111" stroke-width="0.15">Distance along the height in y-axis (nm)</text>
<text x="134.2" y="449.4" font-size="13.3" text-anchor="middle" fill="#111">(c)</text>
<rect x="40.8" y="334.9" width="58.4" height="78.1" fill="#fff"/>
<text x="47" y="342.6" font-size="5" class="s" textLength="48" lengthAdjust="spacingAndGlyphs" fill="#222">e- Mobility (cm2/Vs)</text>
<defs><linearGradient id="cbar" x1="0" y1="0" x2="0" y2="1"><stop offset="0" stop-color="#ff1000"/><stop offset="0.08" stop-color="#ff6000"/><stop offset="0.2" stop-color="#ffd000"/><stop offset="0.28" stop-color="#e0ff00"/><stop offset="0.38" stop-color="#40ff00"/><stop offset="0.46" stop-color="#00ff40"/><stop offset="0.56" stop-color="#00ffe0"/><stop offset="0.62" stop-color="#00c0ff"/><stop offset="0.7" stop-color="#0040ff"/><stop offset="0.8" stop-color="#2000e0"/><stop offset="0.9" stop-color="#9000ff"/><stop offset="1" stop-color="#ff00ff"/></linearGradient></defs>
<rect x="47" y="345.7" width="19" height="63.1" fill="url(#cbar)"/>
<text x="69.2" y="347.7" font-size="5.6" class="s" fill="#333">2700</text>
<text x="69.2" y="354.49" font-size="5.6" class="s" fill="#333">2400</text>
<text x="69.2" y="361.28" font-size="5.6" class="s" fill="#333">2100</text>
<text x="69.2" y="368.07" font-size="5.6" class="s" fill="#333">1800</text>
<text x="69.2" y="374.86" font-size="5.6" class="s" fill="#333">1500</text>
<text x="69.2" y="381.65" font-size="5.6" class="s" fill="#333">1200</text>
<text x="69.2" y="388.44" font-size="5.6" class="s" fill="#333">900</text>
<text x="69.2" y="395.23" font-size="5.6" class="s" fill="#333">600</text>
<text x="69.2" y="402.02" font-size="5.6" class="s" fill="#333">300</text>
<text x="69.2" y="408.81" font-size="5.6" class="s" fill="#333">0</text>
</g>
<g id="pd">
<defs><clipPath id="dclip"><rect x="307.7" y="224.8" width="235.7" height="198"/></clipPath><filter id="dblur" x="-2%" y="-2%" width="104%" height="104%"><feGaussianBlur stdDeviation="0.5"/></filter></defs>
<g clip-path="url(#dclip)"><g filter="url(#dblur)"><rect x="306.7" y="223.8" width="237.7" height="200" fill="#05ee0a"/><path d="M306.7 223.8L306.7 419.11L310.73 418.66L314.76 418.21L318.79 417.76L322.82 417.32L326.84 416.88L330.87 416.44L334.9 416.01L338.93 415.57L342.96 415.11L346.99 414.66L351.02 414.22L355.05 413.82L359.07 413.47L363.1 413.17L367.13 412.86L371.16 412.56L375.19 412.25L379.22 411.95L383.25 411.66L387.28 411.39L391.31 411.13L395.33 410.88L399.36 410.66L403.39 410.47L407.42 410.31L411.45 410.17L415.48 410.07L419.51 410.02L423.54 410L427.56 410.04L431.59 410.13L435.62 410.28L439.65 410.48L443.68 410.72L447.71 411L451.74 411.31L455.77 411.65L459.79 412.02L463.82 412.41L467.85 412.81L471.88 413.22L475.91 413.64L479.94 414.06L483.97 414.47L488 414.88L492.03 415.27L496.05 415.65L500.08 416.01L504.11 416.35L508.14 416.71L512.17 417.06L516.2 417.43L520.23 417.8L524.26 418.17L528.28 418.55L532.31 418.93L536.34 419.32L540.37 419.71L544.4 420.1L544.4 223.8Z" fill="#0cf000"/><path d="M306.7 223.8L306.7 412.21L310.73 411.38L314.76 410.57L318.79 409.8L322.82 409.06L326.84 408.34L330.87 407.66L334.9 407.02L338.93 406.39L342.96 405.78L346.99 405.2L351.02 404.65L355.05 404.14L359.07 403.69L363.1 403.29L367.13 402.88L371.16 402.47L375.19 402.06L379.22 401.66L383.25 401.26L387.28 400.89L391.31 400.53L395.33 400.21L399.36 399.91L403.39 399.64L407.42 399.42L411.45 399.24L415.48 399.1L419.51 399.02L423.54 399L427.56 399.06L431.59 399.19L435.62 399.41L439.65 399.69L443.68 400.04L447.71 400.44L451.74 400.88L455.77 401.37L459.79 401.9L463.82 402.45L467.85 403.02L471.88 403.61L475.91 404.2L479.94 404.79L483.97 405.38L488 405.95L492.03 406.5L496.05 407.02L500.08 407.51L504.11 407.98L508.14 408.46L512.17 408.94L516.2 409.43L520.23 409.92L524.26 410.41L528.28 410.91L532.31 411.41L536.34 411.91L540.37 412.42L544.4 412.93L544.4 223.8Z" fill="#19f400"/><path d="M306.7 223.8L306.7 405.3L310.73 404.1L314.76 402.94L318.79 401.83L322.82 400.78L326.84 399.8L330.87 398.87L334.9 398.02L338.93 397.22L342.96 396.46L346.99 395.74L351.02 395.07L355.05 394.46L359.07 393.91L363.1 393.42L367.13 392.92L371.16 392.42L375.19 391.92L379.22 391.43L383.25 390.95L387.28 390.49L391.31 390.06L395.33 389.66L399.36 389.3L403.39 388.98L407.42 388.71L411.45 388.49L415.48 388.32L419.51 388.23L423.54 388.2L427.56 388.28L431.59 388.46L435.62 388.74L439.65 389.12L443.68 389.57L447.71 390.1L451.74 390.68L455.77 391.32L459.79 391.99L463.82 392.69L467.85 393.42L471.88 394.15L475.91 394.88L479.94 395.61L483.97 396.31L488 396.98L492.03 397.61L496.05 398.19L500.08 398.71L504.11 399.19L508.14 399.67L512.17 400.13L516.2 400.59L520.23 401.04L524.26 401.49L528.28 401.92L532.31 402.35L536.34 402.78L540.37 403.19L544.4 403.6L544.4 223.8Z" fill="#2df800"/><path d="M306.7 223.8L306.7 398.34L310.73 396.98L314.76 395.67L318.79 394.41L322.82 393.22L326.84 392.08L330.87 391.02L334.9 390.02L338.93 389.09L342.96 388.2L346.99 387.35L351.02 386.56L355.05 385.83L359.07 385.15L363.1 384.5L367.13 383.84L371.16 383.17L375.19 382.5L379.22 381.83L383.25 381.17L387.28 380.54L391.31 379.94L395.33 379.38L399.36 378.87L403.39 378.41L407.42 378.02L411.45 377.71L415.48 377.48L419.51 377.34L423.54 377.3L427.56 377.39L431.59 377.62L435.62 377.98L439.65 378.44L443.68 379L447.71 379.65L451.74 380.37L455.77 381.15L459.79 381.97L463.82 382.83L467.85 383.72L471.88 384.61L475.91 385.49L479.94 386.36L483.97 387.2L488 388L492.03 388.74L496.05 389.42L500.08 390.01L504.11 390.56L508.14 391.09L512.17 391.6L516.2 392.11L520.23 392.6L524.26 393.08L528.28 393.55L532.31 394.01L536.34 394.45L540.37 394.88L544.4 395.3L544.4 223.8Z" fill="#4bfc00"/><path d="M306.7 223.8L306.7 390.4L310.73 388.8L314.76 387.28L318.79 385.83L322.82 384.47L326.84 383.21L330.87 382.06L334.9 381.02L338.93 380.09L342.96 379.24L346.99 378.45L351.02 377.72L355.05 377.02L359.07 376.35L363.1 375.68L367.13 374.97L371.16 374.23L375.19 373.49L379.22 372.74L383.25 372L387.28 371.28L391.31 370.59L395.33 369.94L399.36 369.34L403.39 368.81L407.42 368.36L411.45 367.99L415.48 367.71L419.51 367.55L423.54 367.5L427.56 367.6L431.59 367.84L435.62 368.2L439.65 368.69L443.68 369.28L447.71 369.95L451.74 370.71L455.77 371.53L459.79 372.4L463.82 373.31L467.85 374.24L471.88 375.18L475.91 376.12L479.94 377.05L483.97 377.95L488 378.81L492.03 379.62L496.05 380.35L500.08 381.01L504.11 381.62L508.14 382.22L512.17 382.81L516.2 383.38L520.23 383.95L524.26 384.5L528.28 385.05L532.31 385.58L536.34 386.1L540.37 386.62L544.4 387.12L544.4 223.8Z" fill="#6eff00"/><path d="M306.7 223.8L306.7 382.46L310.73 380.63L314.76 378.88L318.79 377.24L322.82 375.72L326.84 374.33L330.87 373.1L334.9 372.02L338.93 371.1L342.96 370.29L346.99 369.56L351.02 368.88L355.05 368.22L359.07 367.56L363.1 366.86L367.13 366.1L371.16 365.31L375.19 364.49L379.22 363.67L383.25 362.84L387.28 362.03L391.31 361.25L395.33 360.51L399.36 359.83L403.39 359.22L407.42 358.69L411.45 358.26L415.48 357.95L419.51 357.76L423.54 357.7L427.56 357.81L431.59 358.07L435.62 358.46L439.65 358.99L443.68 359.63L447.71 360.36L451.74 361.18L455.77 362.07L459.79 363.01L463.82 363.99L467.85 365L471.88 366.02L475.91 367.04L479.94 368.04L483.97 369.02L488 369.94L492.03 370.81L496.05 371.61L500.08 372.31L504.11 372.97L508.14 373.61L512.17 374.24L516.2 374.85L520.23 375.45L524.26 376.05L528.28 376.63L532.31 377.19L536.34 377.75L540.37 378.3L544.4 378.83L544.4 223.8Z" fill="#8cff00"/><path d="M306.7 223.8L306.7 374.4L310.73 372.82L314.76 371.3L318.79 369.86L322.82 368.51L326.84 367.25L330.87 366.08L334.9 365.02L338.93 364.05L342.96 363.14L346.99 362.3L351.02 361.51L355.05 360.79L359.07 360.14L363.1 359.56L367.13 359.05L371.16 358.59L375.19 358.14L379.22 357.7L383.25 357.22L387.28 356.68L391.31 356.02L395.33 355.29L399.36 354.51L403.39 353.74L407.42 353.02L411.45 352.4L415.48 351.91L419.51 351.59L423.54 351.5L427.56 351.55L431.59 351.68L435.62 351.88L439.65 352.14L443.68 352.46L447.71 352.83L451.74 353.24L455.77 353.7L459.79 354.18L463.82 354.69L467.85 355.21L471.88 355.79L475.91 356.62L479.94 357.67L483.97 358.87L488 360.13L492.03 361.36L496.05 362.48L500.08 363.42L504.11 364.23L508.14 365.01L512.17 365.77L516.2 366.51L520.23 367.21L524.26 367.87L528.28 368.49L532.31 369.07L536.34 369.6L540.37 370.08L544.4 370.5L544.4 223.8Z" fill="#aaff00"/><path d="M306.7 223.8L306.7 366.49L310.73 364.55L314.76 362.69L318.79 360.92L322.82 359.27L326.84 357.73L330.87 356.31L334.9 355.03L338.93 353.88L342.96 352.85L346.99 351.9L351.02 350.99L355.05 350.11L359.07 349.21L363.1 348.31L367.13 347.46L371.16 346.63L375.19 345.79L379.22 344.91L383.25 343.95L387.28 342.83L391.31 341.39L395.33 339.69L399.36 337.87L403.39 336.02L407.42 334.27L411.45 332.73L415.48 331.51L419.51 330.73L423.54 330.5L427.56 330.66L431.59 331.06L435.62 331.67L439.65 332.45L443.68 333.4L447.71 334.47L451.74 335.64L455.77 336.88L459.79 338.17L463.82 339.48L467.85 340.79L471.88 342.06L475.91 343.28L479.94 344.64L483.97 346.18L488 347.78L492.03 349.35L496.05 350.8L500.08 352.02L504.11 353.1L508.14 354.14L512.17 355.15L516.2 356.12L520.23 357.04L524.26 357.9L528.28 358.7L532.31 359.43L536.34 360.08L540.37 360.64L544.4 361.11L544.4 223.8Z" fill="#ccff00"/><path d="M306.7 223.8L544.4 223.8L544.4 361L520 357L500 351L488 348L487 341.6L485.8 330.7L484.7 319.8L483.6 309L481.5 298L478.2 287L472.7 276.2L464 267.5L453 260.9L443 256.5L425 256.3L405 257.2L392 261L386 265L380 271.7L373.5 282.6L370.2 293.5L368 304L365.9 315L363.7 326L361.5 337L360.5 346L350 350L330 355L306.7 362Z" fill="#f6ff00"/><path d="M546.03 354.13L546.06 222.13L546.03 222.11L305.03 222.11L305.01 222.13L305.03 352.18L313.03 352.16L318.37 352.1L320.7 352.03L321.37 351.97L322.03 351.85L324.7 351.72L325.37 351.62L325.7 351.52L327.7 351.36L328.37 351.17L329.7 351.05L330.37 350.83L331.37 350.73L331.7 350.64L332.03 350.49L333.03 350.35L333.37 350.18L334.37 350L334.7 349.83L335.37 349.72L335.7 349.53L336.37 349.4L336.7 349.21L337.37 349.06L337.7 348.85L338.37 348.66L338.69 348.47L339.03 348.4L339.37 348.17L339.7 348.09L340.03 347.87L340.37 347.77L340.86 347.47L341.03 347.44L341.5 347.13L341.7 347.09L342.03 346.84L342.37 346.72L343.21 346.13L343.37 346.09L344.18 345.47L344.37 345.4L346.03 344.04L346.98 343.13L347.6 342.47L348.95 340.8L349.03 340.61L349.62 339.8L349.7 339.6L350.01 339.13L350.36 338.47L351.01 337.13L351.12 336.8L351.3 336.47L351.37 336.18L351.66 335.47L351.7 335.24L351.98 334.47L352.03 334.14L352.33 333.13L352.66 331.47L352.98 329.13L353.16 326.8L353.26 324.47L353.5 312.8L353.77 304.47L354.06 298.13L354.41 292.47L354.9 286.8L355.51 281.47L356.22 276.8L356.66 274.47L357.09 272.47L358.02 268.8L358.52 267.13L359.09 265.47L359.72 263.8L360.37 262.26L361.06 260.8L361.76 259.47L362.54 258.13L363.4 256.8L364.12 255.8L365.68 253.8L366.7 252.61L368.38 250.8L370.03 249.16L371.03 248.3L372.03 247.52L374.03 246.16L376.03 245.03L378.37 243.92L381.03 242.88L383.7 242.04L386.7 241.27L390.03 240.59L393.7 240L397.37 239.55L401.7 239.14L406.37 238.82L411.37 238.59L417.03 238.42L423.03 238.34L429.03 238.35L434.7 238.43L440.03 238.6L445.03 238.84L449.37 239.14L453.37 239.51L457.03 239.95L460.7 240.52L463.8 241.13L466.7 241.84L469.37 242.64L472.03 243.62L474.37 244.67L476.46 245.8L478.53 247.13L480.37 248.55L482.03 250.08L484.7 252.99L486.7 255.56L487.37 256.49L488.22 257.8L489.53 260.13L490.18 261.47L490.9 263.13L491.42 264.47L492.01 266.13L492.53 267.8L493.03 269.61L493.94 273.47L494.73 277.8L495.38 282.47L495.95 287.8L496.39 293.47L496.71 298.8L496.97 304.8L497.22 313.13L497.46 325.13L497.56 327.47L497.75 330.13L498.06 332.47L498.39 334.13L498.7 335.25L498.72 335.47L499.03 336.39L499.12 336.8L499.7 338.23L499.75 338.47L499.94 338.8L500.06 339.13L500.38 339.8L500.7 340.35L500.73 340.47L501.03 340.94L501.09 341.13L501.7 342L501.74 342.13L502.37 342.94L502.46 343.13L503.96 344.8L506.03 346.75L506.37 347.01L506.7 347.2L507.37 347.75L507.54 347.8L508.04 348.13L508.37 348.4L508.6 348.47L509.03 348.78L509.73 349.13L510.03 349.36L510.38 349.47L510.7 349.7L511.05 349.8L511.37 350.01L511.77 350.13L512.37 350.44L512.7 350.51L513.03 350.73L513.4 350.8L514.03 351.09L514.37 351.14L514.7 351.34L515.03 351.43L515.36 351.47L515.7 351.66L516.03 351.76L516.43 351.8L517.03 352.06L517.69 352.13L518.37 352.4L519.06 352.47L519.7 352.7L520.68 352.8L521.37 353.03L521.7 353.08L522.7 353.15L523.37 353.35L525.37 353.51L525.7 353.62L526.37 353.72L528.7 353.82L530.03 354.01L532.37 354.1L541.03 354.21L546.03 354.22L546.03 354.13Z" fill="#ffe200" fill-rule="evenodd"/><path d="M546.03 352.13L546.03 222.11L305.01 222.13L305.03 350.05L311.7 350.04L316.37 349.95L320.6 349.8L324.37 349.47L326.96 349.13L327.7 348.98L328.91 348.8L331.91 348.13L334.2 347.47L336.08 346.8L337.65 346.13L339.01 345.47L340.7 344.48L341.7 343.81L343.37 342.47L344.72 341.13L346.06 339.47L346.7 338.51L347.03 337.92L347.7 336.64L348.03 335.9L348.7 334.1L349.03 332.92L349.37 331.44L349.72 329.13L349.95 325.47L350.03 322.13L350.09 300.47L350.19 285.13L350.33 274.47L350.53 265.47L350.83 257.13L351.29 248.8L351.79 242.8L352.05 240.47L352.41 237.8L353.03 237.61L355.76 237.47L359.7 237.36L369.7 237.19L388.7 236.98L405.7 236.91L429.37 236.89L450.7 236.92L465.7 237.01L482.37 237.21L491.7 237.38L495.02 237.47L497.7 237.61L498.25 237.8L498.54 240.13L498.83 242.8L499.3 248.8L499.71 256.8L500 265.13L500.19 274.47L500.33 285.8L500.44 302.13L500.51 323.8L500.56 326.13L500.68 328.8L501.03 331.81L501.37 333.53L501.69 334.8L502.03 335.91L502.37 336.85L503.03 338.38L503.99 340.13L504.65 341.13L505.7 342.5L507.29 344.13L508.02 344.8L508.45 345.13L509.32 345.8L510.31 346.47L512.03 347.48L513.35 348.13L514.11 348.47L516.74 349.47L518.98 350.13L520.33 350.47L521.91 350.8L523.77 351.13L526.16 351.47L529.57 351.8L534.03 352.01L537.37 352.11L546.03 352.13Z" fill="#ffc200" fill-rule="evenodd"/><path d="M546.03 348.8L546.03 222.11L305.01 222.13L305.03 346.57L311.7 346.56L315.7 346.49L318.03 346.39L321.59 346.13L324.34 345.8L326.37 345.46L329.29 344.8L331.48 344.13L333.24 343.47L334.03 343.12L335.37 342.46L337.03 341.46L338.37 340.49L338.78 340.13L339.51 339.47L340.37 338.58L341.03 337.8L341.7 336.87L342.36 335.8L342.7 335.16L343.37 333.64L343.7 332.7L344.03 331.56L344.37 330.06L344.7 327.7L344.86 324.8L344.91 322.13L345.02 289.13L345.12 276.8L345.27 267.13L345.46 258.8L345.77 250.13L346.1 243.47L346.5 237.8L347.06 237.47L348.29 237.13L349.25 236.8L350.03 236.16L350.71 235.47L351.37 234.96L352.21 234.47L353.03 234.12L357.7 233.8L363.03 233.54L370.37 233.28L377.03 233.12L385.37 232.99L395.7 232.9L411.7 232.85L431.7 232.84L449.03 232.87L462.03 232.95L473.03 233.1L481.7 233.31L490.7 233.67L497.7 234.12L498.7 234.61L499.37 235.06L499.84 235.47L501.14 236.8L501.94 237.13L502.98 237.47L503.46 237.8L503.79 243.47L504.07 250.13L504.32 258.8L504.5 267.47L504.69 287.13L504.78 322.8L504.82 325.47L504.99 328.47L505.29 330.8L505.54 332.13L505.78 333.13L506.07 334.13L506.41 335.13L506.82 336.13L507.3 337.13L507.7 337.88L508.27 338.8L508.99 339.8L509.54 340.47L510.15 341.13L511.03 342L511.98 342.8L512.7 343.34L514.44 344.47L516.37 345.47L517.7 346.04L519.03 346.54L521.37 347.25L524.03 347.86L527.03 348.35L530.37 348.72L534.7 348.97L540.03 349.07L546.03 349.07L546.03 348.8Z" fill="#ffa200" fill-rule="evenodd"/><path d="M546.03 345.8L546.03 222.12L305.02 222.13L305.03 342.13L313.37 342.09L316.03 341.99L318.7 341.8L321.37 341.49L323.37 341.16L325.37 340.7L327.27 340.13L329.03 339.45L330.03 338.99L331 338.47L332.53 337.47L333.7 336.5L334.72 335.47L335.27 334.8L335.75 334.13L336.53 332.8L337 331.8L337.25 331.13L337.75 329.47L338.08 327.8L338.3 325.8L338.39 323.8L338.48 287.47L338.61 267.8L338.72 259.13L338.89 250.47L339.06 243.8L339.28 237.8L339.56 237.47L340.13 237.13L340.53 236.8L341.03 235.8L341.44 235.13L341.93 234.47L342.52 233.8L343.03 233.31L343.7 232.77L345.37 231.64L346.03 231.23L346.7 230.89L348.03 230.35L350.03 229.77L351.03 229.43L352.37 229.11L353.03 229L360.37 228.8L370.37 228.63L379.37 228.53L405.7 228.43L457.37 228.46L471.03 228.53L482.03 228.65L490.7 228.8L497.7 229L499.37 229.38L501.37 230.05L502.7 230.59L503.69 231.13L504.61 231.8L505.37 232.5L506.03 233.27L506.62 234.13L506.98 234.8L507.29 235.47L507.76 236.8L508.03 237.13L508.41 237.47L508.6 237.8L508.88 250.8L509.07 268.47L509.15 285.8L509.2 322.47L509.24 325.13L509.34 327.13L509.43 328.13L509.7 330.1L509.99 331.47L510.36 332.8L510.7 333.75L511.03 334.55L511.66 335.8L512.05 336.47L512.7 337.42L513.56 338.47L514.18 339.13L514.89 339.8L516.14 340.8L517.7 341.82L519.6 342.8L521.22 343.47L523.25 344.13L524.49 344.47L525.97 344.8L527.82 345.13L530.37 345.47L532.7 345.67L535.03 345.81L539.37 345.91L546.03 345.92L546.03 345.8Z" fill="#ff8200" fill-rule="evenodd"/><path d="M546.03 342.13L546.03 222.12L305.02 222.13L305.03 337.63L312.03 337.59L314.03 337.52L316.7 337.34L319.03 337.03L320.7 336.71L322.37 336.28L323.37 335.95L325.03 335.26L326.03 334.72L326.7 334.31L327.7 333.56L328.53 332.8L329.13 332.13L329.64 331.47L330.26 330.47L330.86 329.13L331.19 328.13L331.49 326.8L331.63 325.8L331.77 324.13L331.82 322.47L331.91 267.47L332.03 249.74L332.2 237.8L332.33 237.47L332.57 237.13L332.73 236.8L333.09 235.13L333.61 233.47L334.03 232.43L334.51 231.47L335.15 230.47L335.97 229.47L337.03 228.48L337.59 228.13L338.7 227.58L340.03 227.05L341.37 226.65L343.03 226.26L345.7 225.79L347.37 225.55L351.37 225.14L353.03 225.02L364.37 224.92L379.7 224.85L425.7 224.81L471.7 224.85L486.7 224.92L497.7 225.02L499.37 225.15L502.7 225.55L504.18 225.8L505.62 226.13L507.03 226.59L508.03 227.02L508.83 227.47L510.03 228.28L510.26 228.47L510.7 228.94L511.35 229.8L511.94 230.8L512.37 231.71L512.77 232.8L513.15 234.13L513.44 235.47L513.66 236.8L513.79 237.13L513.98 237.47L514.08 237.8L514.22 250.47L514.32 267.47L514.41 323.8L514.52 326.13L514.72 328.13L515.03 329.81L515.37 331L515.7 331.95L516.37 333.41L517.03 334.52L518.03 335.83L518.64 336.47L519.35 337.13L520.7 338.16L522.34 339.13L523.77 339.8L525.58 340.47L526.7 340.8L528.03 341.13L529.7 341.46L532.03 341.79L533.7 341.94L536.7 342.13L539.03 342.18L546.03 342.21L546.03 342.13Z" fill="#ff6400" fill-rule="evenodd"/><path d="M314.95 333.8L316.7 333.58L318.03 333.32L319.37 332.96L320.37 332.61L321.7 332L322.37 331.62L323.37 330.89L323.85 330.47L324.47 329.8L325.19 328.8L325.56 328.13L325.84 327.47L326.16 326.47L326.47 324.8L326.59 323.47L326.62 321.8L326.65 266.8L326.75 237.8L326.93 236.8L327.11 234.47L327.35 232.47L327.63 230.8L327.93 229.47L328.34 228.13L328.65 227.47L329.03 226.8L329.77 225.8L330.37 225.18L330.81 224.8L330.81 222.13L305.02 222.13L305.03 334.06L311.7 334.03L313.37 333.95L314.95 333.8ZM546.03 337.8L546.04 222.13L515.56 222.13L515.56 224.8L516.03 225.14L516.7 225.72L517.1 226.13L517.65 226.8L518.09 227.47L518.45 228.13L518.61 228.47L518.94 229.47L519.29 230.8L519.62 232.47L519.9 234.47L520.11 236.8L520.33 237.8L520.47 268.47L520.51 322.8L520.55 324.47L520.68 326.13L521.03 328.19L521.42 329.47L521.68 330.13L522 330.8L522.6 331.8L523.37 332.81L524.37 333.81L525.69 334.8L526.86 335.47L528.37 336.14L529.29 336.47L530.37 336.78L531.7 337.09L533.7 337.43L535.03 337.58L537.37 337.75L539.37 337.82L546.03 337.85L546.03 337.8Z" fill="#ff4a00" fill-rule="evenodd"/><path d="M313.79 331.13L315.77 330.8L316.37 330.61L317.04 330.47L317.37 330.3L317.92 330.13L318.37 329.9L318.7 329.79L319.7 329.16L320.15 328.8L320.7 328.27L321.37 327.49L321.7 326.92L322.03 326.22L322.38 325.13L322.63 323.13L322.7 321.47L322.75 237.8L322.95 232.47L323.11 229.8L323.23 228.47L323.41 227.13L323.67 225.8L323.93 224.8L323.93 222.13L305.03 222.13L305.03 331.32L310.03 331.31L313.79 331.13ZM546.03 332.8L546.04 222.13L525.3 222.13L525.3 224.8L525.77 225.8L526.23 227.13L526.56 228.47L526.76 229.8L527.04 232.47L527.3 236.8L527.41 237.8L527.48 268.47L527.5 322.13L527.57 324.13L527.73 325.47L527.96 326.47L528.31 327.47L528.7 328.24L529.31 329.13L529.92 329.8L530.71 330.47L531.7 331.08L532.7 331.56L533.7 331.92L535.03 332.27L536.03 332.47L537.7 332.68L539.37 332.8L541.03 332.84L546.03 332.85L546.03 332.8Z" fill="#ff2a00" fill-rule="evenodd"/><path d="M310.97 325.8L311.7 325.66L312.7 325.32L313.37 324.94L313.91 324.47L314.18 324.13L314.53 323.47L314.7 322.8L314.8 321.8L314.85 237.8L315.04 232.47L315.18 229.8L315.28 228.47L315.44 227.13L315.66 225.8L315.88 224.8L315.88 222.13L305.03 222.13L305.03 325.97L309.03 325.96L310.03 325.91L310.97 325.8ZM546.03 327.47L546.04 222.13L533.98 222.13L533.98 224.8L534.18 225.8L534.39 227.13L534.55 228.47L534.64 229.8L534.78 232.47L534.96 237.8L535 321.8L535.06 323.13L535.17 323.8L535.35 324.47L535.68 325.13L535.91 325.47L536.2 325.8L536.7 326.23L537.05 326.47L537.71 326.8L538.7 327.13L539.03 327.2L540.7 327.43L542.7 327.5L546.03 327.5L546.03 327.47Z" fill="#ff0000" fill-rule="evenodd"/></g></g>
<path d="M326.6 224.8V334.6M523.2 224.8V334.6M326.6 237.2H523.2" stroke="#6a5a00" stroke-opacity="0.45" stroke-width="0.7" fill="none"/>
<line x1="307.7" y1="334.6" x2="543.4" y2="334.6" stroke="#6a5a00" stroke-opacity="0.45" stroke-width="0.7" fill="none"/>
<path d="M351.5 237.2V334.6M497.9 237.2V334.6M351.5 261.3H497.9M351.5 309.8H497.9M388.3 261.3V309.8M461 261.3V309.8" stroke="#6a5a00" stroke-opacity="0.45" stroke-width="0.7" fill="none"/>
<line x1="367.3" y1="231.4" x2="367.3" y2="259.8" stroke="#2383a2" stroke-width="1.7"/><path d="M364 258.8L370.6 258.8L367.3 268.3Z" fill="#2383a2"/>
<line x1="384" y1="231.4" x2="384" y2="259.8" stroke="#2383a2" stroke-width="1.7"/><path d="M380.7 258.8L387.3 258.8L384 268.3Z" fill="#2383a2"/>
<line x1="402.6" y1="231.4" x2="402.6" y2="259.8" stroke="#2383a2" stroke-width="1.7"/><path d="M399.3 258.8L405.9 258.8L402.6 268.3Z" fill="#2383a2"/>
<line x1="452.1" y1="231.4" x2="452.1" y2="259.8" stroke="#2383a2" stroke-width="1.7"/><path d="M448.8 258.8L455.4 258.8L452.1 268.3Z" fill="#2383a2"/>
<line x1="471.2" y1="231.4" x2="471.2" y2="259.8" stroke="#2383a2" stroke-width="1.7"/><path d="M467.9 258.8L474.5 258.8L471.2 268.3Z" fill="#2383a2"/>
<line x1="490" y1="231.4" x2="490" y2="259.8" stroke="#2383a2" stroke-width="1.7"/><path d="M486.7 258.8L493.3 258.8L490 268.3Z" fill="#2383a2"/>
<line x1="371.2" y1="328" x2="371.2" y2="342.3" stroke="#2383a2" stroke-width="1.7"/><path d="M367.9 341.3L374.5 341.3L371.2 350.8Z" fill="#2383a2"/>
<line x1="386.4" y1="328" x2="386.4" y2="342.3" stroke="#2383a2" stroke-width="1.7"/><path d="M383.1 341.3L389.7 341.3L386.4 350.8Z" fill="#2383a2"/>
<line x1="402.3" y1="328" x2="402.3" y2="342.3" stroke="#2383a2" stroke-width="1.7"/><path d="M399 341.3L405.6 341.3L402.3 350.8Z" fill="#2383a2"/>
<line x1="453.5" y1="328" x2="453.5" y2="342.3" stroke="#2383a2" stroke-width="1.7"/><path d="M450.2 341.3L456.8 341.3L453.5 350.8Z" fill="#2383a2"/>
<line x1="470.3" y1="328" x2="470.3" y2="342.3" stroke="#2383a2" stroke-width="1.7"/><path d="M467 341.3L473.6 341.3L470.3 350.8Z" fill="#2383a2"/>
<line x1="487" y1="328" x2="487" y2="342.3" stroke="#2383a2" stroke-width="1.7"/><path d="M483.7 341.3L490.3 341.3L487 350.8Z" fill="#2383a2"/>
<path d="M318.6 281.1C336 285 349 292 353.6 303.5" fill="none" stroke="#2383a2" stroke-width="1.8"/>
<path d="M349.2 301.5L358.6 302.5L354.7 309.2Z" fill="#2383a2"/>
<path d="M313.7 303.4C333 308.5 349 321 355.6 343" fill="none" stroke="#2383a2" stroke-width="3.2"/>
<path d="M351.6 343.6L360.8 343.6L356.4 351Z" fill="#2383a2"/>
<path d="M537.3 281C520 284 505 292 498.5 303.5" fill="none" stroke="#2383a2" stroke-width="1.8"/>
<path d="M492.4 302.5L501.6 301.5L497 309.2Z" fill="#2383a2"/>
<path d="M537 303.6C518 310 503 326 498.6 343" fill="none" stroke="#2383a2" stroke-width="3.2"/>
<path d="M494.2 343.6L503.2 343.6L498.2 351Z" fill="#2383a2"/>
<text x="427.4" y="253.6" font-size="8.2" text-anchor="middle" font-weight="bold" textLength="17.4" lengthAdjust="spacingAndGlyphs" fill="#000" stroke="#000" stroke-width="0.25">s-Si</text>
<text x="362.6" y="289.5" font-size="8.2" font-weight="bold" textLength="16.8" lengthAdjust="spacingAndGlyphs" fill="#000" stroke="#000" stroke-width="0.25">s-Si</text>
<text x="470.5" y="288.8" font-size="8.2" font-weight="bold" textLength="17" lengthAdjust="spacingAndGlyphs" fill="#000" stroke="#000" stroke-width="0.25">s-Si</text>
<text x="427.4" y="323.6" font-size="8.2" text-anchor="middle" font-weight="bold" textLength="17.4" lengthAdjust="spacingAndGlyphs" fill="#000" stroke="#000" stroke-width="0.25">s-Si</text>
<text transform="translate(403.6 288.6) scale(1.26 1)" font-size="8.8" font-weight="bold" fill="#000" stroke="#000" stroke-width="0.22">s-Si<tspan font-size="5.2" dy="2.1">0.6</tspan><tspan dy="-2.1">Ge</tspan><tspan font-size="5.2" dy="2.1">0.4</tspan></text>
<line x1="305.7" y1="415.07" x2="307.7" y2="415.07" stroke="#c8c8c8" stroke-width="0.8"/>
<line x1="305.7" y1="406.99" x2="307.7" y2="406.99" stroke="#c8c8c8" stroke-width="0.8"/>
<line x1="304.2" y1="398.9" x2="307.7" y2="398.9" stroke="#c8c8c8" stroke-width="0.8"/>
<line x1="305.7" y1="390.81" x2="307.7" y2="390.81" stroke="#c8c8c8" stroke-width="0.8"/>
<line x1="305.7" y1="382.73" x2="307.7" y2="382.73" stroke="#c8c8c8" stroke-width="0.8"/>
<line x1="305.7" y1="374.64" x2="307.7" y2="374.64" stroke="#c8c8c8" stroke-width="0.8"/>
<line x1="304.2" y1="366.56" x2="307.7" y2="366.56" stroke="#c8c8c8" stroke-width="0.8"/>
<line x1="305.7" y1="358.48" x2="307.7" y2="358.48" stroke="#c8c8c8" stroke-width="0.8"/>
<line x1="305.7" y1="350.39" x2="307.7" y2="350.39" stroke="#c8c8c8" stroke-width="0.8"/>
<line x1="305.7" y1="342.31" x2="307.7" y2="342.31" stroke="#c8c8c8" stroke-width="0.8"/>
<line x1="304.2" y1="334.22" x2="307.7" y2="334.22" stroke="#c8c8c8" stroke-width="0.8"/>
<line x1="305.7" y1="326.13" x2="307.7" y2="326.13" stroke="#c8c8c8" stroke-width="0.8"/>
<line x1="305.7" y1="318.05" x2="307.7" y2="318.05" stroke="#c8c8c8" stroke-width="0.8"/>
<line x1="305.7" y1="309.97" x2="307.7" y2="309.97" stroke="#c8c8c8" stroke-width="0.8"/>
<line x1="304.2" y1="301.88" x2="307.7" y2="301.88" stroke="#c8c8c8" stroke-width="0.8"/>
<line x1="305.7" y1="293.8" x2="307.7" y2="293.8" stroke="#c8c8c8" stroke-width="0.8"/>
<line x1="305.7" y1="285.71" x2="307.7" y2="285.71" stroke="#c8c8c8" stroke-width="0.8"/>
<line x1="305.7" y1="277.62" x2="307.7" y2="277.62" stroke="#c8c8c8" stroke-width="0.8"/>
<line x1="304.2" y1="269.54" x2="307.7" y2="269.54" stroke="#c8c8c8" stroke-width="0.8"/>
<line x1="305.7" y1="261.45" x2="307.7" y2="261.45" stroke="#c8c8c8" stroke-width="0.8"/>
<line x1="305.7" y1="253.37" x2="307.7" y2="253.37" stroke="#c8c8c8" stroke-width="0.8"/>
<line x1="305.7" y1="245.28" x2="307.7" y2="245.28" stroke="#c8c8c8" stroke-width="0.8"/>
<line x1="304.2" y1="237.2" x2="307.7" y2="237.2" stroke="#c8c8c8" stroke-width="0.8"/>
<line x1="305.7" y1="229.11" x2="307.7" y2="229.11" stroke="#c8c8c8" stroke-width="0.8"/>
<text x="301" y="239.7" font-size="7.3" text-anchor="end" textLength="7.9" lengthAdjust="spacingAndGlyphs" fill="#111">36</text>
<text x="301" y="272.04" font-size="7.3" text-anchor="end" textLength="7.9" lengthAdjust="spacingAndGlyphs" fill="#111">34</text>
<text x="301" y="304.38" font-size="7.3" text-anchor="end" textLength="7.9" lengthAdjust="spacingAndGlyphs" fill="#111">32</text>
<text x="301" y="336.72" font-size="7.3" text-anchor="end" textLength="7.9" lengthAdjust="spacingAndGlyphs" fill="#111">30</text>
<text x="301" y="369.06" font-size="7.3" text-anchor="end" textLength="7.9" lengthAdjust="spacingAndGlyphs" fill="#111">28</text>
<text x="301" y="401.4" font-size="7.3" text-anchor="end" textLength="7.9" lengthAdjust="spacingAndGlyphs" fill="#111">26</text>
<line x1="327.1" y1="422.8" x2="327.1" y2="425.3" stroke="#c8c8c8" stroke-width="0.8"/>
<text x="327.1" y="433.6" font-size="7.4" text-anchor="middle" textLength="4.1" lengthAdjust="spacingAndGlyphs" fill="#111">2</text>
<line x1="351.48" y1="422.8" x2="351.48" y2="425.3" stroke="#c8c8c8" stroke-width="0.8"/>
<text x="351.48" y="433.6" font-size="7.4" text-anchor="middle" textLength="4.1" lengthAdjust="spacingAndGlyphs" fill="#111">3</text>
<line x1="375.85" y1="422.8" x2="375.85" y2="425.3" stroke="#c8c8c8" stroke-width="0.8"/>
<text x="375.85" y="433.6" font-size="7.4" text-anchor="middle" textLength="4.1" lengthAdjust="spacingAndGlyphs" fill="#111">4</text>
<line x1="400.23" y1="422.8" x2="400.23" y2="425.3" stroke="#c8c8c8" stroke-width="0.8"/>
<text x="400.23" y="433.6" font-size="7.4" text-anchor="middle" textLength="4.1" lengthAdjust="spacingAndGlyphs" fill="#111">5</text>
<line x1="424.6" y1="422.8" x2="424.6" y2="425.3" stroke="#c8c8c8" stroke-width="0.8"/>
<text x="424.6" y="433.6" font-size="7.4" text-anchor="middle" textLength="4.1" lengthAdjust="spacingAndGlyphs" fill="#111">6</text>
<line x1="448.98" y1="422.8" x2="448.98" y2="425.3" stroke="#c8c8c8" stroke-width="0.8"/>
<text x="448.98" y="433.6" font-size="7.4" text-anchor="middle" textLength="4.1" lengthAdjust="spacingAndGlyphs" fill="#111">7</text>
<line x1="473.35" y1="422.8" x2="473.35" y2="425.3" stroke="#c8c8c8" stroke-width="0.8"/>
<text x="473.35" y="433.6" font-size="7.4" text-anchor="middle" textLength="4.1" lengthAdjust="spacingAndGlyphs" fill="#111">8</text>
<line x1="497.73" y1="422.8" x2="497.73" y2="425.3" stroke="#c8c8c8" stroke-width="0.8"/>
<text x="497.73" y="433.6" font-size="7.4" text-anchor="middle" textLength="4.1" lengthAdjust="spacingAndGlyphs" fill="#111">9</text>
<line x1="522.1" y1="422.8" x2="522.1" y2="425.3" stroke="#c8c8c8" stroke-width="0.8"/>
<text x="522.1" y="433.6" font-size="7.4" text-anchor="middle" textLength="8.3" lengthAdjust="spacingAndGlyphs" fill="#111">10</text>
<text x="425.3" y="439.2" font-size="7.4" text-anchor="middle" textLength="140.6" lengthAdjust="spacingAndGlyphs" fill="#111" stroke="#111" stroke-width="0.18">Distance along the channel in z-axis (nm)</text>
<text transform="translate(284.8 312.9) scale(1.3 1) rotate(-90)" font-size="6.2" text-anchor="middle" textLength="99.7" lengthAdjust="spacingAndGlyphs" fill="#111" stroke="#111" stroke-width="0.15">Distance along the height in y-axis (nm)</text>
<text x="424.5" y="449.6" font-size="13.3" text-anchor="middle" fill="#111">(d)</text>
<rect x="312.2" y="339.9" width="36.3" height="79.1" fill="#fff"/>
<text x="315.8" y="347.8" font-size="5" class="s" textLength="30.2" lengthAdjust="spacingAndGlyphs" fill="#222">Potential (V)</text>
<defs><linearGradient id="dbar" x1="0" y1="0" x2="0" y2="1"><stop offset="0" stop-color="#ff1000"/><stop offset="0.1" stop-color="#ff6000"/><stop offset="0.2" stop-color="#ffd000"/><stop offset="0.28" stop-color="#e0ff00"/><stop offset="0.38" stop-color="#40ff00"/><stop offset="0.46" stop-color="#00ff40"/><stop offset="0.56" stop-color="#00ffe0"/><stop offset="0.62" stop-color="#00c0ff"/><stop offset="0.7" stop-color="#0040ff"/><stop offset="0.8" stop-color="#2000e0"/><stop offset="0.9" stop-color="#9000ff"/><stop offset="1" stop-color="#ff00ff"/></linearGradient></defs>
<rect x="315.8" y="350.7" width="11.6" height="63.8" fill="url(#dbar)"/>
<text x="329.4" y="358.5" font-size="5.6" class="s" fill="#333">0.94</text>
<text x="329.4" y="366.4" font-size="5.6" class="s" fill="#333">0.85</text>
<text x="329.4" y="374.3" font-size="5.6" class="s" fill="#333">0.76</text>
<text x="329.4" y="382.2" font-size="5.6" class="s" fill="#333">0.67</text>
<text x="329.4" y="390.1" font-size="5.6" class="s" fill="#333">0.58</text>
<text x="329.4" y="398" font-size="5.6" class="s" fill="#333">0.49</text>
<text x="329.4" y="405.9" font-size="5.6" class="s" fill="#333">0.40</text>
<text x="329.4" y="413.8" font-size="5.6" class="s" fill="#333">0.31</text>
</g>
</svg>
</body></html>
